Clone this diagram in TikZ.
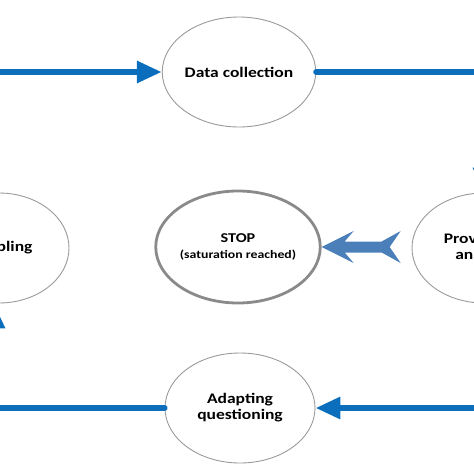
\documentclass[tikz,border=0pt]{standalone}
\usepackage{fontspec}
\setmainfont{Carlito}
\usepackage{graphicx}
\usetikzlibrary{arrows.meta,shapes.geometric}
\definecolor{lineblue}{HTML}{0A6EBD}
\definecolor{fatblue}{HTML}{4A7FBA}
\definecolor{rimgray}{HTML}{9A9A9A}
\definecolor{stopgray}{HTML}{8A8A8A}
\newcommand{\wt}[1]{\scalebox{1.2}[1]{#1}}
\tikzset{
  stage/.style={ellipse, draw=rimgray, line width=0.9pt, minimum width=150pt, minimum height=110pt, inner sep=0pt, align=center,
    font=\fontsize{14.6}{16}\selectfont\bfseries},
  stopnode/.style={stage, draw=stopgray, line width=2.8pt, minimum width=152pt, minimum height=112pt},
  flow/.style={lineblue, line width=6pt, -{Triangle[length=25pt,width=21pt]}, line cap=round},
}
\begin{document}
\begin{tikzpicture}[x=1pt,y=-1pt]
\useasboundingbox (0,0) rectangle (474,474);
\clip (0,0) rectangle (474,474);
\node[stage, minimum width=140pt] (samp) at (-1,248) {\wt{Sampling}};
\node[stage] (data) at (239,72) {\wt{Data collection}};
\node[stage, minimum width=144pt] (prov) at (484,248) {\wt{Provisional}\\\wt{analysis}};
\node[stage] (adapt) at (240,408) {\wt{Adapting}\\\wt{questioning}};
\node[stopnode] (stop) at (238,247) {\fontsize{13.5}{19}\selectfont\wt{STOP}\\\fontsize{11.5}{14}\selectfont\wt{(saturation reached)}};
\draw[flow] ([xshift=-5pt]samp.north) |- (data.west);
\draw[flow] (data.east) -| (prov.north);
\draw[flow] (prov.south) |- (adapt.east);
\draw[flow] (adapt.west) -| ([xshift=-5pt]samp.south);
\fill[fatblue] (stop.east) -- ++(32,-16) -- ++(-9,10.5) -- ++(37,0) -- ++(19,-10.5) -- ++(-11,16)
  -- ++(11,16) -- ++(-19,-10.5) -- ++(-37,0) -- ++(9,10.5) -- cycle;
\end{tikzpicture}
\end{document}
